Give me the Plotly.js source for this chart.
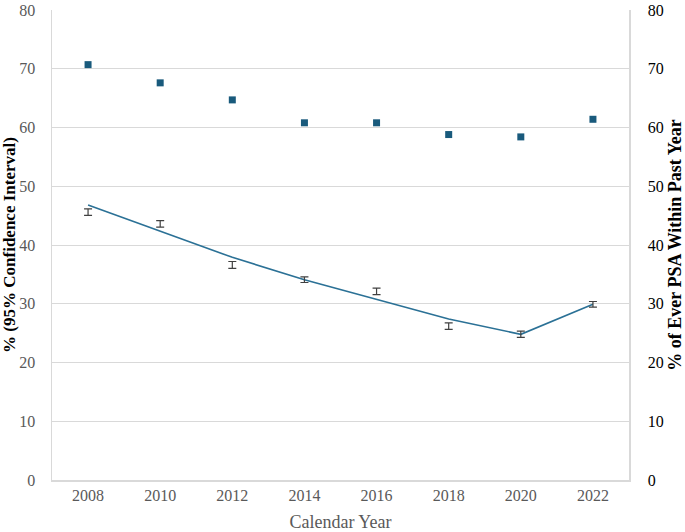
<!DOCTYPE html>
<html>
<head>
<meta charset="utf-8">
<script src="https://cdn.plot.ly/plotly-3.0.1.min.js"></script>
<style>html,body{margin:0;padding:0;background:#fff;}#chart{width:685px;height:532px;}</style>
</head>
<body>
<div id="chart"></div>
<script>
const years = ["2008","2010","2012","2014","2016","2018","2020","2022"];
const psaWithinPastYear = [70.7, 67.6, 64.7, 60.8, 60.8, 58.8, 58.4, 61.4];
const estimate = [45.6, 43.6, 36.6, 34.1, 32.1, 26.2, 24.8, 29.9];
const ciHalfWidth = [0.56, 0.56, 0.59, 0.48, 0.56, 0.56, 0.53, 0.48];
const trend = [46.8, 42.4, 37.9, 34.1, 30.8, 27.4, 24.8, 29.9];
const yTicks = [0, 10, 20, 30, 40, 50, 60, 70, 80];

const serif = "'Liberation Serif', 'Times New Roman', serif";

const traces = [
  {
    x: years, y: trend, type: 'scatter', mode: 'lines',
    line: {color: '#2b7196', width: 1.6},
    hoverinfo: 'skip', showlegend: false
  },
  {
    x: years, y: estimate, type: 'scatter', mode: 'markers',
    marker: {size: 1, color: 'rgba(0,0,0,0)'},
    error_y: {type: 'data', array: ciHalfWidth, visible: true, color: '#404040', thickness: 1.2, width: 4},
    showlegend: false
  },
  {
    x: years, y: psaWithinPastYear, type: 'scatter', mode: 'markers', yaxis: 'y2',
    marker: {symbol: 'square', size: 7, color: '#195a7c'},
    showlegend: false
  }
];

const layout = {
  width: 685, height: 532,
  margin: {l: 52, r: 56, t: 10, b: 52},
  paper_bgcolor: '#fff', plot_bgcolor: '#fff',
  font: {family: serif, size: 16, color: '#595959'},
  xaxis: {
    type: 'category', range: [-0.5, 7.5],
    showgrid: false, showline: true, linecolor: '#d9d9d9', linewidth: 1.5,
    ticks: '', tickfont: {family: serif, size: 16, color: '#595959'},
    title: {text: 'Calendar Year', font: {family: serif, size: 18, color: '#595959'}, standoff: 13},
    zeroline: false, fixedrange: true
  },
  yaxis: {
    range: [0, 80], tickvals: yTicks, ticktext: yTicks.map(String),
    showgrid: true, gridcolor: '#d9d9d9', gridwidth: 1,
    showline: true, linecolor: '#d9d9d9', linewidth: 1.5,
    zeroline: false, ticks: '', ticklabelstandoff: 12, ticklabeloverflow: 'allow',
    tickfont: {family: serif, size: 16, color: '#595959'},
    title: {text: '<b>% (95% Confidence Interval)</b>', font: {family: serif, size: 17, color: '#000'}, standoff: 8}
  },
  yaxis2: {
    overlaying: 'y', side: 'right', range: [0, 80], tickvals: yTicks, ticktext: yTicks.map(String),
    showgrid: false, showline: true, linecolor: '#d9d9d9', linewidth: 1.5,
    zeroline: false, ticks: '', ticklabelstandoff: 14, ticklabeloverflow: 'allow',
    tickfont: {family: serif, size: 16, color: '#000'},
    title: {text: '<b>% of Ever PSA Within Past Year</b>', font: {family: serif, size: 18, color: '#000'}, standoff: 8}
  }
};

Plotly.newPlot('chart', traces, layout, {displayModeBar: false, staticPlot: true});
</script>
</body>
</html>
